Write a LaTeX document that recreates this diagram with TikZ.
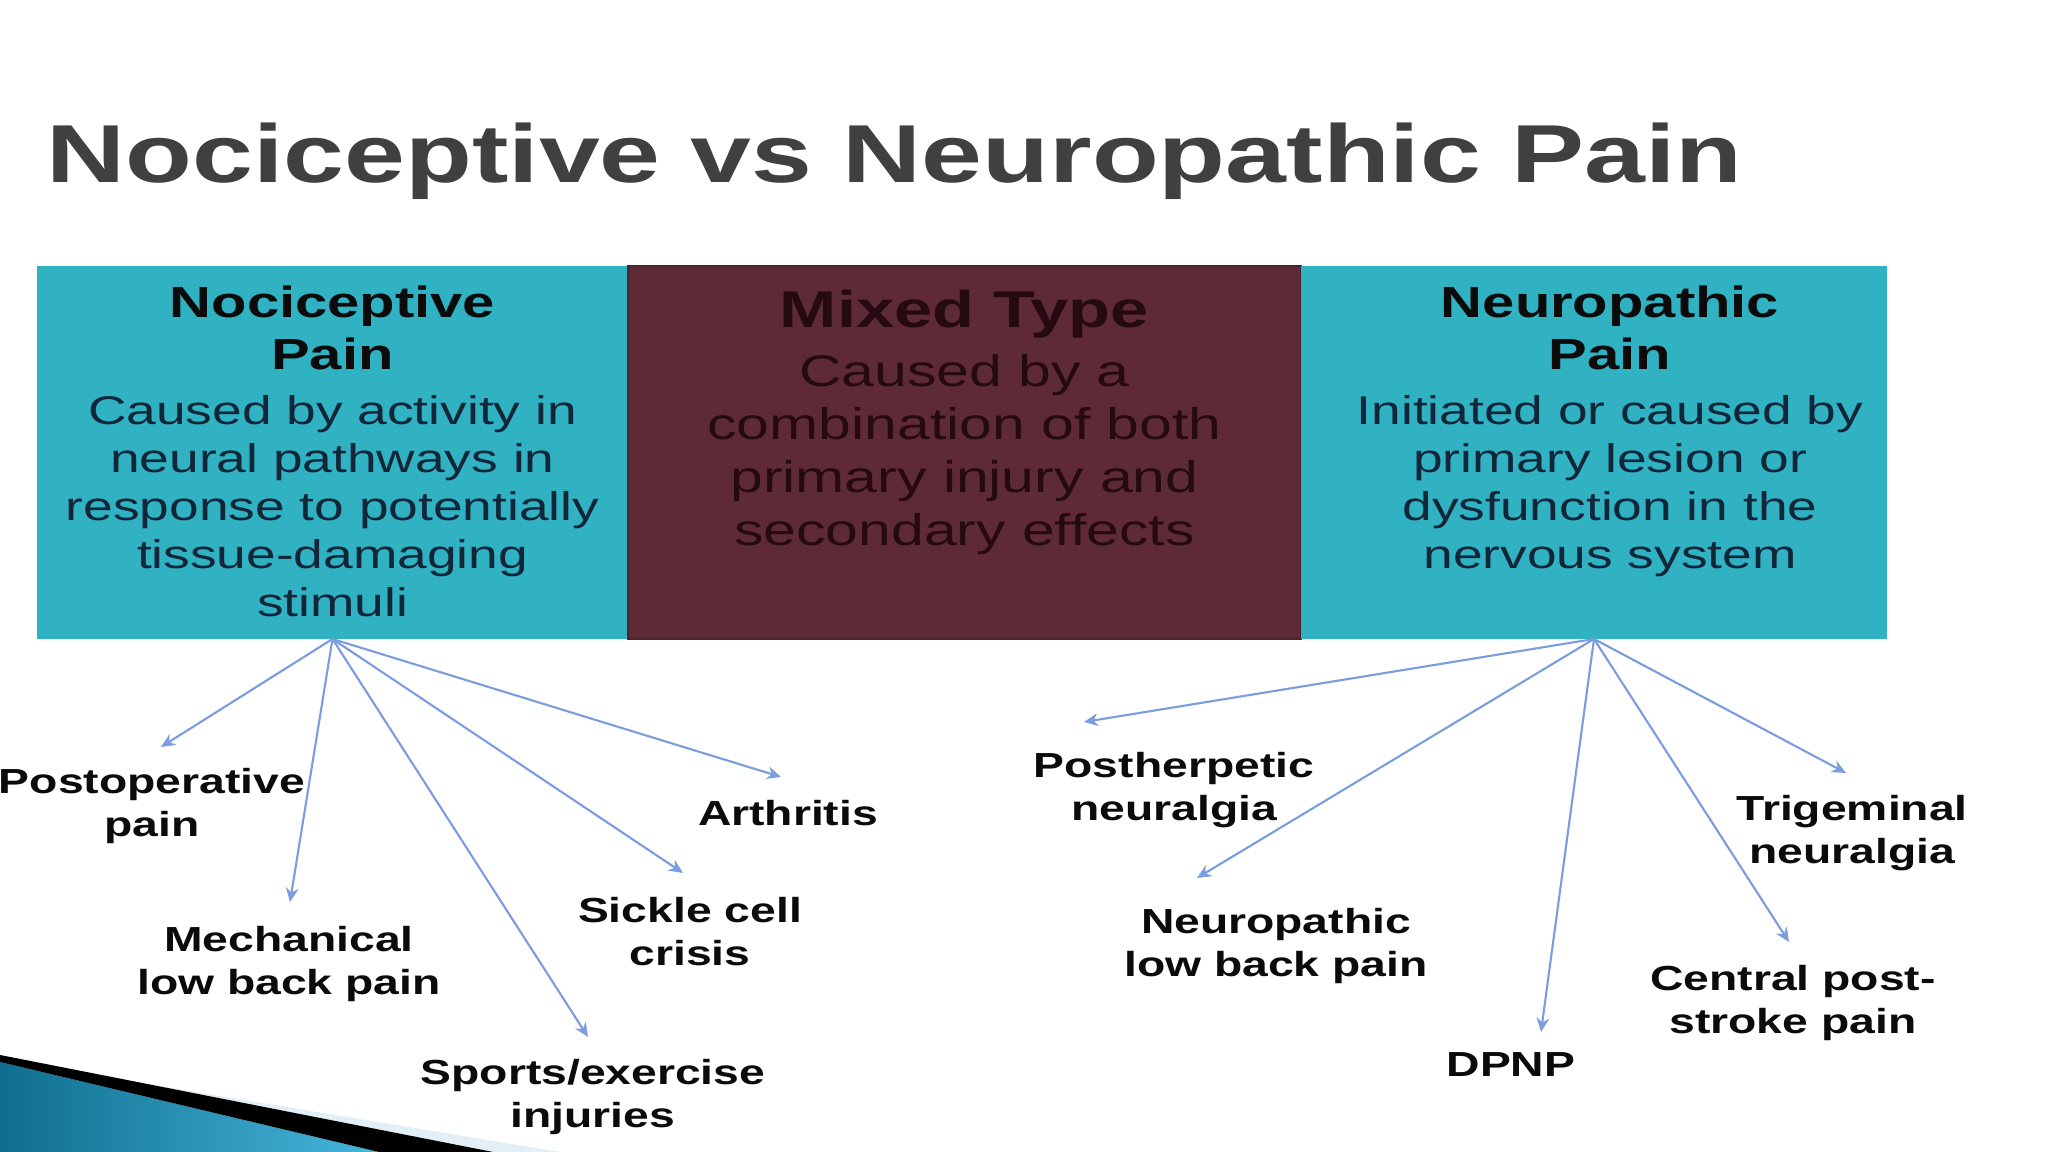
\documentclass[tikz,border=0pt]{standalone}
\usepackage{fontspec}
\setmainfont{Liberation Sans}[FakeStretch=1.33]
\usetikzlibrary{arrows.meta,positioning}
\definecolor{boxteal}{HTML}{30B2C2}
\definecolor{boxwine}{HTML}{5E2A36}
\definecolor{wineedge}{HTML}{4A2230}
\definecolor{arrblue}{HTML}{7C9CE0}
\definecolor{titlegray}{HTML}{404040}
\definecolor{ink}{HTML}{0B0B0B}
\definecolor{navy}{HTML}{12263A}
\definecolor{wineink}{HTML}{260A12}
\definecolor{swooshdark}{HTML}{0F6E8E}
\definecolor{swooshlight}{HTML}{46B6DC}
\definecolor{swooshpale}{HTML}{E2EFF4}
\tikzset{
  >={Stealth[length=4pt,width=3.6pt]},
  painbox/.style={rectangle, inner sep=0pt, outer sep=0pt, minimum height=3.73cm},
  tealbox/.style={painbox, fill=boxteal},
  winebox/.style={painbox, fill=boxwine, draw=wineedge, line width=0.6pt},
  headtxt/.style={align=center, inner sep=0pt, outer sep=0pt, text=ink,
    font=\bfseries\fontsize{12.4}{14.8}\selectfont},
  bodytxt/.style={align=center, inner sep=0pt, outer sep=0pt, text=navy,
    font=\fontsize{11.4}{13.7}\selectfont},
  mixhead/.style={headtxt, text=wineink, font=\bfseries\fontsize{14.7}{17}\selectfont},
  mixbody/.style={bodytxt, text=wineink, font=\fontsize{12.6}{15.1}\selectfont},
  leaf/.style={align=center, inner sep=0pt, anchor=north, text=ink,
    font=\bfseries\fontsize{9.9}{12.2}\selectfont},
  painarr/.style={->, draw=arrblue, line width=0.6pt},
}

\begin{document}
\begin{tikzpicture}
  \useasboundingbox (0,0) rectangle (20.48,11.52);
  \fill[white] (0,0) rectangle (20.48,11.52);
  % ===================== corner swoosh =====================
  \shade[left color=swooshdark, right color=swooshlight] (0,0.90) -- (3.79,0) -- (0,0) -- cycle;
  \fill[swooshpale] (1.5,0.675) -- (5.6,0) -- (4.93,0) -- cycle;
  \fill[black] (0,0.97) -- (4.93,0) -- (3.79,0) -- (0,0.90) -- cycle;

  % ===================== title =====================
  \node[anchor=base west, inner sep=0pt, text=titlegray,
    font=\bfseries\fontsize{23.4}{28}\selectfont] (title) at (0.46,9.69) {Nociceptive vs Neuropathic Pain};

  % ===================== three boxes =====================
  \node[tealbox, minimum width=5.91cm, anchor=north west] (noci) at (0.37,8.86) {};
  \node[winebox, minimum width=6.73cm, right=0pt of noci] (mixed) {};
  \node[tealbox, minimum width=5.86cm, right=0pt of mixed] (neuro) {};

  \node[headtxt, below=0.20cm of noci.north] (nociHead) {Nociceptive\\Pain};
  \node[bodytxt, below=0.25cm of nociHead] (nociBody) {Caused by activity in\\neural pathways in\\response to potentially\\tissue-damaging\\stimuli};

  \node[mixhead, below=0.24cm of mixed.north] (mixedHead) {Mixed Type};
  \node[mixbody, below=0.16cm of mixedHead] (mixedBody) {Caused by a\\combination of both\\primary injury and\\secondary effects};

  \node[headtxt, below=0.20cm of neuro.north, xshift=0.16cm] (neuroHead) {Neuropathic\\Pain};
  \node[bodytxt, below=0.25cm of neuroHead] (neuroBody) {Initiated or caused by\\primary lesion or\\dysfunction in the\\nervous system};

  % ===================== nociceptive examples =====================
  \node[leaf] (postop) at (1.52,3.84) {Postoperative\\pain};
  \node[leaf] (mech)   at (2.89,2.26) {Mechanical\\low back pain};
  \node[leaf] (sports) at (5.93,0.93) {Sports/exercise\\injuries};
  \node[leaf] (sickle) at (6.90,2.55) {Sickle cell\\crisis};
  \node[leaf] (arth)   at (7.88,3.52) {Arthritis};
  \coordinate (postop-tip) at (1.61,4.05);
  \coordinate (mech-tip)   at (2.90,2.50);
  \coordinate (sports-tip) at (5.88,1.15);
  \coordinate (sickle-tip) at (6.83,2.79);
  \coordinate (arth-tip)   at (7.81,3.75);
  \foreach \t in {postop,mech,sports,sickle,arth}
    \draw[painarr] (noci.south) -- (\t-tip);

  % ===================== neuropathic examples =====================
  \node[leaf] (posth)   at (11.74,4.00) {Postherpetic\\neuralgia};
  \node[leaf] (nlbp)    at (12.76,2.44) {Neuropathic\\low back pain};
  \node[leaf] (dpnp)    at (15.11,1.00) {DPNP};
  \node[leaf] (central) at (17.93,1.87) {Central post-\\stroke pain};
  \node[leaf] (trig)    at (18.52,3.57) {Trigeminal\\neuralgia};
  \coordinate (posth-tip)   at (10.84,4.30);
  \coordinate (nlbp-tip)    at (11.97,2.74);
  \coordinate (dpnp-tip)    at (15.41,1.20);
  \coordinate (central-tip) at (17.89,2.10);
  \coordinate (trig-tip)    at (18.46,3.79);
  \foreach \t in {posth,nlbp,dpnp,central,trig}
    \draw[painarr] (neuro.south) -- (\t-tip);
\end{tikzpicture}
\end{document}
